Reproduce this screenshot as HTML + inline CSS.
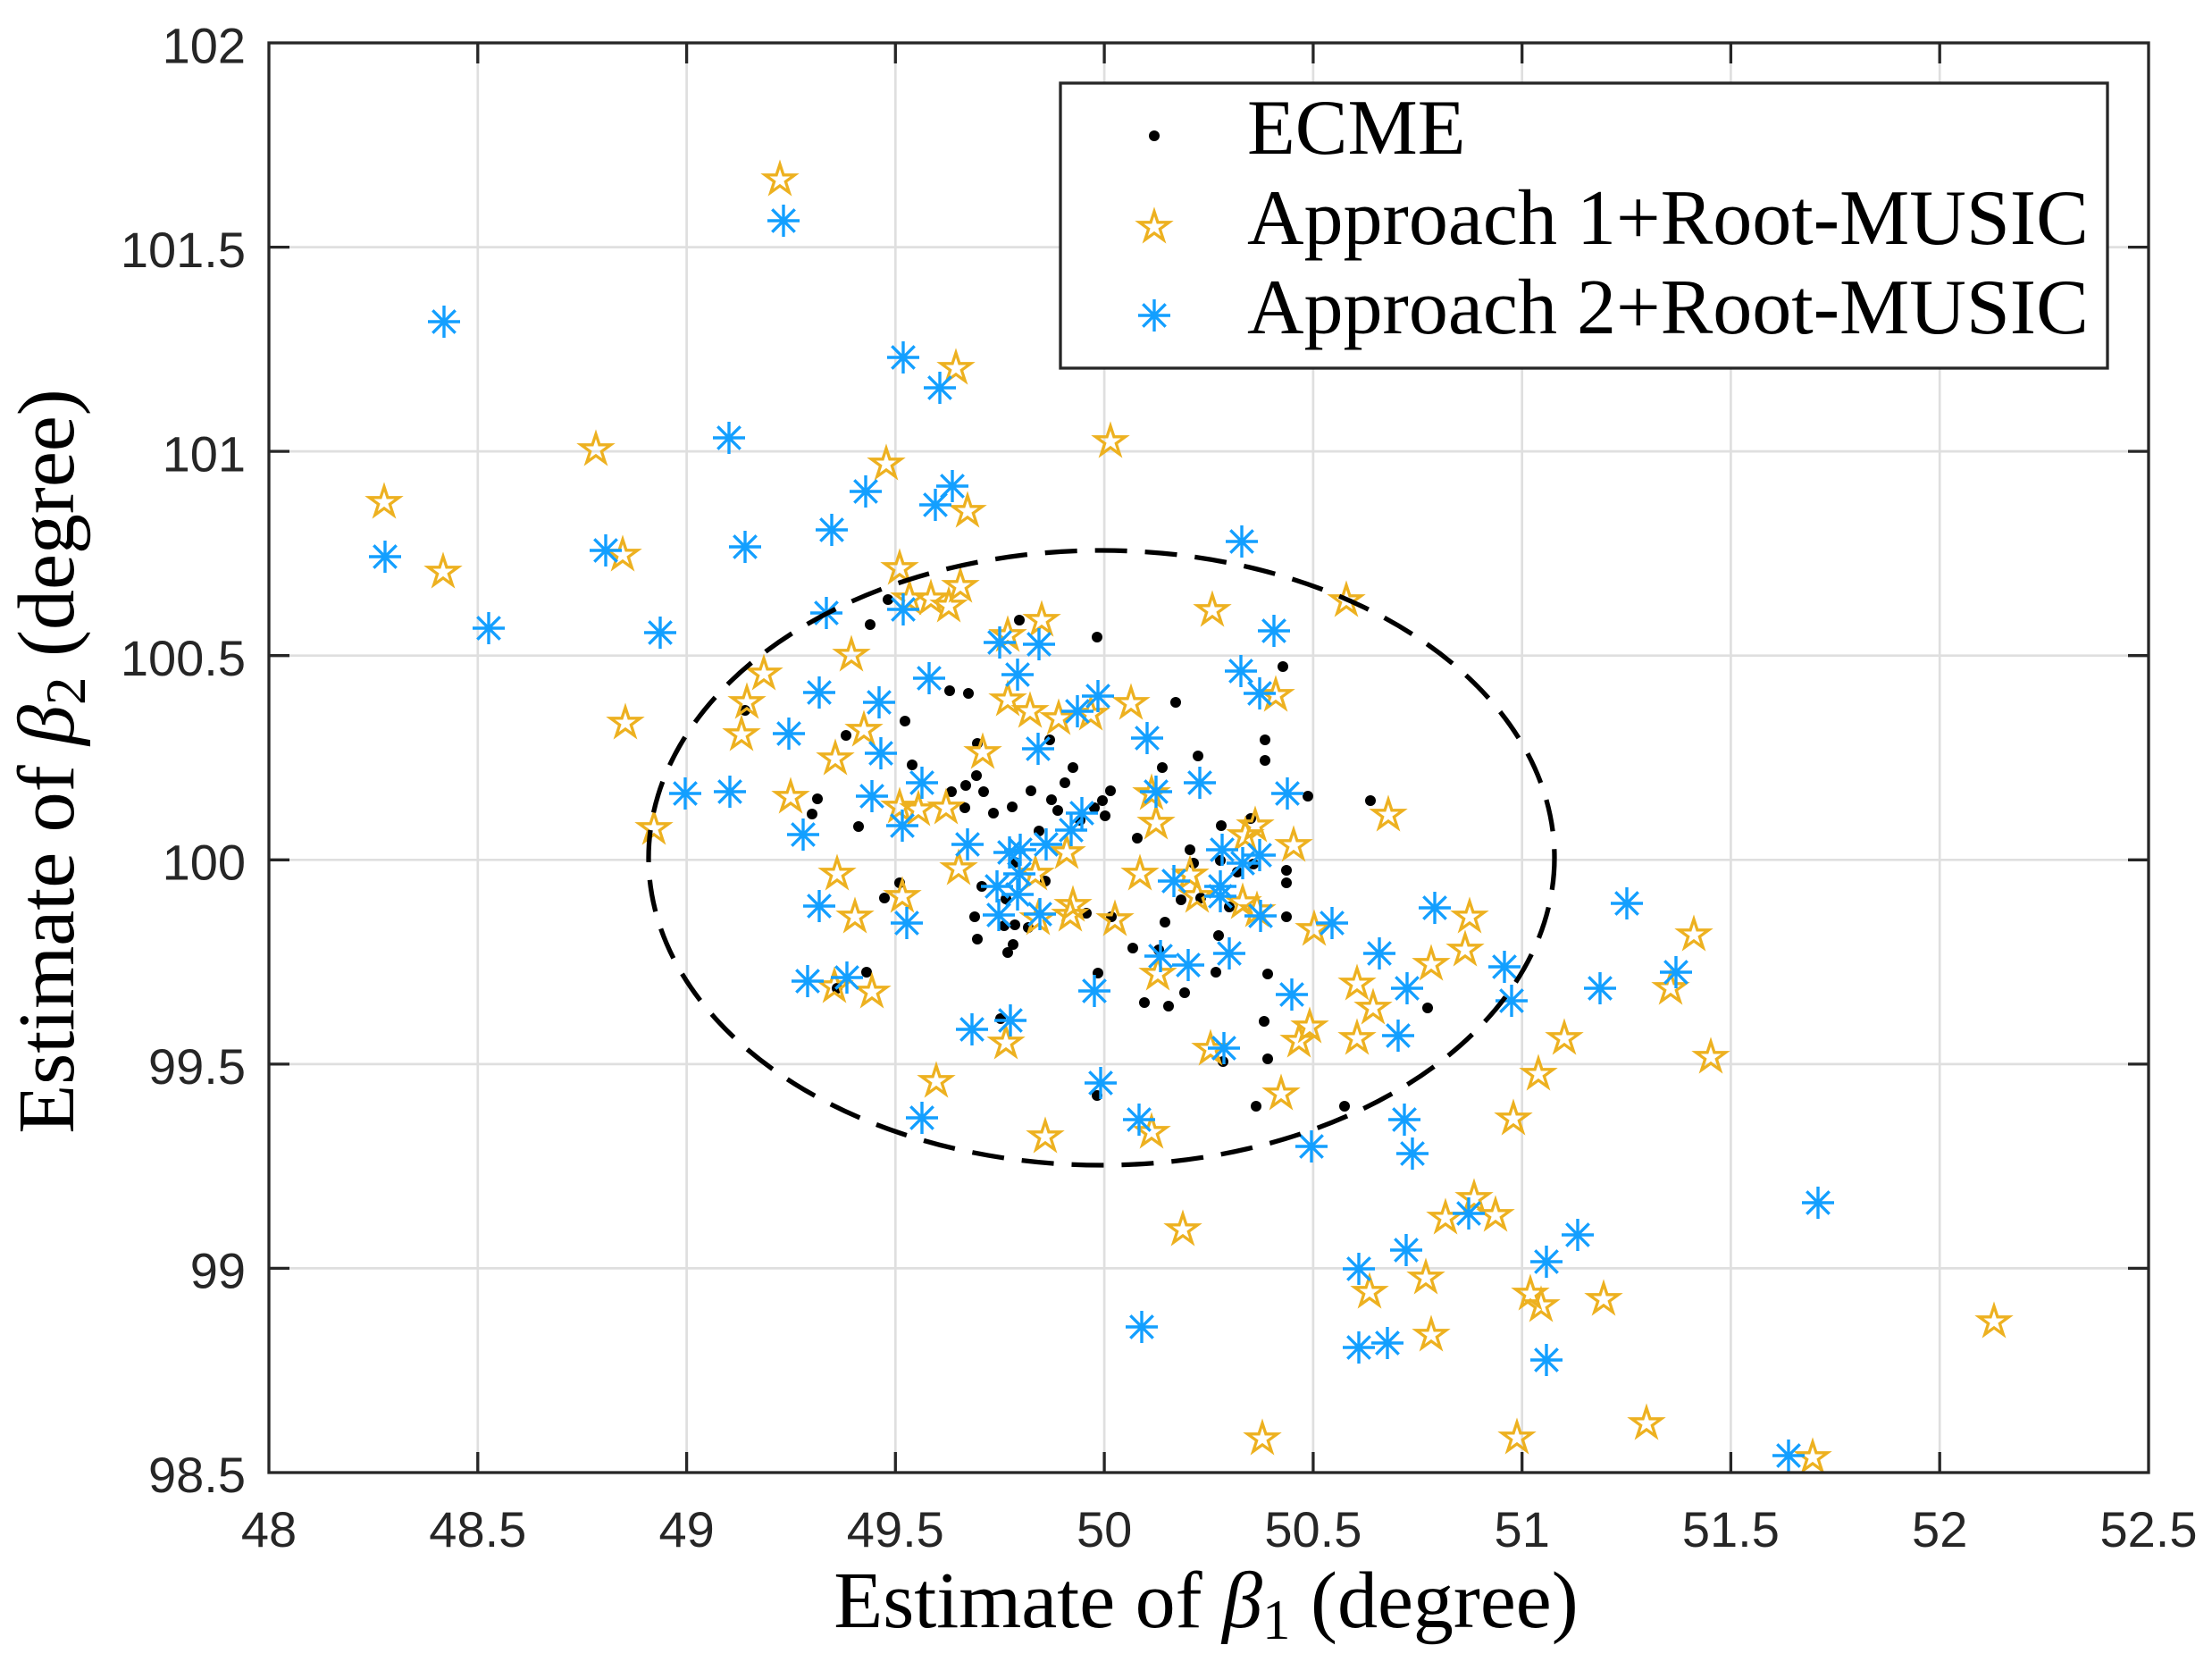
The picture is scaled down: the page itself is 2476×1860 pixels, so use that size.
<!DOCTYPE html>
<html><head><meta charset="utf-8"><style>html,body{margin:0;padding:0;background:#fff}svg{display:block}</style></head>
<body>
<svg xmlns="http://www.w3.org/2000/svg" width="2476" height="1860" viewBox="0 0 2476 1860">
<rect x="0" y="0" width="2476" height="1860" fill="#ffffff"/>
<defs>
<path id="st" d="M0,-15.3 L3.93,-3.21 L16.64,-3.21 L6.36,4.27 L10.29,16.36 L0,8.89 L-10.29,16.36 L-6.36,4.27 L-16.64,-3.21 L-3.93,-3.21 Z" fill="none" stroke="#EDB120" stroke-width="3.3" stroke-linejoin="miter" stroke-miterlimit="10"/>
<path id="as" d="M0,-18V18M-18,0H18M-12.7,-12.7L12.7,12.7M-12.7,12.7L12.7,-12.7" fill="none" stroke="#139FFF" stroke-width="3.4"/>
<circle id="dt" cx="0" cy="0" r="6" fill="#000"/>
</defs>
<!-- grid -->
<g stroke="#DFDFDF" stroke-width="2.7">
<line x1="534.8" y1="48" x2="534.8" y2="1648"/>
<line x1="768.6" y1="48" x2="768.6" y2="1648"/>
<line x1="1002.3" y1="48" x2="1002.3" y2="1648"/>
<line x1="1236.1" y1="48" x2="1236.1" y2="1648"/>
<line x1="1469.9" y1="48" x2="1469.9" y2="1648"/>
<line x1="1703.7" y1="48" x2="1703.7" y2="1648"/>
<line x1="1937.4" y1="48" x2="1937.4" y2="1648"/>
<line x1="2171.2" y1="48" x2="2171.2" y2="1648"/>
<line x1="301" y1="276.6" x2="2405" y2="276.6"/>
<line x1="301" y1="505.1" x2="2405" y2="505.1"/>
<line x1="301" y1="733.7" x2="2405" y2="733.7"/>
<line x1="301" y1="962.3" x2="2405" y2="962.3"/>
<line x1="301" y1="1190.9" x2="2405" y2="1190.9"/>
<line x1="301" y1="1419.4" x2="2405" y2="1419.4"/>
</g>
<!-- ticks -->
<g stroke="#262626" stroke-width="3.3">
<path d="M534.8,1648V1625M768.6,1648V1625M1002.3,1648V1625M1236.1,1648V1625M1469.9,1648V1625M1703.7,1648V1625M1937.4,1648V1625M2171.2,1648V1625"/>
<path d="M534.8,48V71M768.6,48V71M1002.3,48V71M1236.1,48V71M1469.9,48V71M1703.7,48V71M1937.4,48V71M2171.2,48V71"/>
<path d="M301,276.6H324M301,505.1H324M301,733.7H324M301,962.3H324M301,1190.9H324M301,1419.4H324"/>
<path d="M2405,276.6H2382M2405,505.1H2382M2405,733.7H2382M2405,962.3H2382M2405,1190.9H2382M2405,1419.4H2382"/>
</g>
<!-- dots -->
<g>
<use href="#dt" x="834" y="795"/>
<use href="#dt" x="994" y="671"/><use href="#dt" x="974" y="699"/><use href="#dt" x="1141" y="694"/><use href="#dt" x="1228" y="713"/><use href="#dt" x="1316" y="786"/><use href="#dt" x="1436" y="746"/><use href="#dt" x="1063" y="773"/><use href="#dt" x="1084" y="776"/><use href="#dt" x="1013" y="807"/><use href="#dt" x="947" y="823"/><use href="#dt" x="1094" y="832"/><use href="#dt" x="1175" y="828"/><use href="#dt" x="1416" y="828"/><use href="#dt" x="1341" y="846"/><use href="#dt" x="1416" y="851"/><use href="#dt" x="1021" y="856"/><use href="#dt" x="1093" y="868"/><use href="#dt" x="1201" y="859"/><use href="#dt" x="1301" y="859"/><use href="#dt" x="1192" y="876"/><use href="#dt" x="1081" y="879"/><use href="#dt" x="1101" y="886"/><use href="#dt" x="1065" y="886"/><use href="#dt" x="1154" y="885"/><use href="#dt" x="1243" y="885"/><use href="#dt" x="915" y="894"/><use href="#dt" x="1177" y="895"/><use href="#dt" x="1234" y="896"/><use href="#dt" x="909" y="911"/><use href="#dt" x="1080" y="904"/><use href="#dt" x="1112" y="910"/><use href="#dt" x="1133" y="903"/><use href="#dt" x="1184" y="907"/><use href="#dt" x="1225" y="904"/><use href="#dt" x="1237" y="913"/><use href="#dt" x="961" y="925"/><use href="#dt" x="1209" y="918"/><use href="#dt" x="1163" y="930"/><use href="#dt" x="1273" y="938"/><use href="#dt" x="1367" y="924"/><use href="#dt" x="1400" y="916"/><use href="#dt" x="1332" y="951"/><use href="#dt" x="1366" y="963"/><use href="#dt" x="1336" y="966"/><use href="#dt" x="1385" y="976"/><use href="#dt" x="1403" y="967"/><use href="#dt" x="1440" y="974"/><use href="#dt" x="1440" y="988"/><use href="#dt" x="1136" y="965"/><use href="#dt" x="1007" y="988"/><use href="#dt" x="990" y="1005"/><use href="#dt" x="1099" y="992"/><use href="#dt" x="1170" y="986"/><use href="#dt" x="1126" y="1006"/><use href="#dt" x="1322" y="1007"/><use href="#dt" x="1344" y="1005"/><use href="#dt" x="1376" y="1015"/><use href="#dt" x="1440" y="1026"/><use href="#dt" x="1091" y="1026"/><use href="#dt" x="1124" y="1036"/><use href="#dt" x="1136" y="1035"/><use href="#dt" x="1151" y="1038"/><use href="#dt" x="1216" y="1022"/><use href="#dt" x="1244" y="1026"/><use href="#dt" x="1304" y="1032"/><use href="#dt" x="1094" y="1051"/><use href="#dt" x="1134" y="1057"/><use href="#dt" x="1128" y="1066"/><use href="#dt" x="1268" y="1061"/><use href="#dt" x="1364" y="1047"/><use href="#dt" x="1297" y="1063"/><use href="#dt" x="1419" y="1090"/><use href="#dt" x="1361" y="1088"/><use href="#dt" x="1326" y="1111"/><use href="#dt" x="1281" y="1122"/><use href="#dt" x="1308" y="1126"/><use href="#dt" x="1229" y="1089"/><use href="#dt" x="970" y="1088"/><use href="#dt" x="937" y="1106"/><use href="#dt" x="1120" y="1140"/><use href="#dt" x="1415" y="1143"/><use href="#dt" x="1419" y="1185"/><use href="#dt" x="1369" y="1188"/>
<use href="#dt" x="1464" y="891"/><use href="#dt" x="1534" y="896"/><use href="#dt" x="1598" y="1128"/>
<use href="#dt" x="1406" y="1238"/><use href="#dt" x="1505" y="1238"/><use href="#dt" x="1228" y="1226"/>
</g>
<!-- stars -->
<g>
<use href="#st" x="873" y="199"/><use href="#st" x="1070" y="410"/><use href="#st" x="667" y="501"/><use href="#st" x="430" y="560"/><use href="#st" x="496" y="638"/><use href="#st" x="697" y="619"/><use href="#st" x="992" y="517"/><use href="#st" x="1083" y="570"/><use href="#st" x="1243" y="492"/><use href="#st" x="1007" y="634"/><use href="#st" x="855" y="752"/><use href="#st" x="836" y="784"/><use href="#st" x="830" y="820"/><use href="#st" x="700" y="807"/><use href="#st" x="732" y="925"/>
<use href="#st" x="1018" y="668"/><use href="#st" x="1042" y="668"/><use href="#st" x="1062" y="676"/><use href="#st" x="1075" y="654"/><use href="#st" x="1166" y="692"/><use href="#st" x="953" y="731"/><use href="#st" x="1357" y="681"/><use href="#st" x="1128" y="709"/><use href="#st" x="935" y="847"/><use href="#st" x="967" y="815"/><use href="#st" x="885" y="890"/><use href="#st" x="1128" y="781"/><use href="#st" x="1153" y="794"/><use href="#st" x="1185" y="802"/><use href="#st" x="1221" y="797"/><use href="#st" x="1266" y="785"/><use href="#st" x="1428" y="776"/><use href="#st" x="1100" y="840"/><use href="#st" x="1007" y="901"/><use href="#st" x="1028" y="904"/><use href="#st" x="1059" y="902"/><use href="#st" x="1289" y="886"/><use href="#st" x="1294" y="919"/><use href="#st" x="1194" y="952"/><use href="#st" x="1073" y="970"/><use href="#st" x="937" y="976"/><use href="#st" x="1159" y="976"/><use href="#st" x="1276" y="976"/><use href="#st" x="1332" y="977"/><use href="#st" x="1405" y="922"/><use href="#st" x="1394" y="933"/><use href="#st" x="1340" y="1001"/><use href="#st" x="1391" y="1008"/><use href="#st" x="1407" y="1017"/><use href="#st" x="1010" y="1001"/><use href="#st" x="957" y="1024"/><use href="#st" x="1201" y="1011"/><use href="#st" x="1198" y="1022"/><use href="#st" x="1162" y="1026"/><use href="#st" x="1248" y="1027"/><use href="#st" x="1296" y="1088"/><use href="#st" x="934" y="1102"/><use href="#st" x="976" y="1108"/><use href="#st" x="1126" y="1165"/><use href="#st" x="1355" y="1172"/>
<use href="#st" x="1507" y="670"/><use href="#st" x="1554" y="910"/><use href="#st" x="1448" y="944"/><use href="#st" x="1471" y="1038"/><use href="#st" x="1645" y="1024"/><use href="#st" x="1640" y="1061"/><use href="#st" x="1602" y="1077"/><use href="#st" x="1519" y="1099"/><use href="#st" x="1537" y="1126"/><use href="#st" x="1466" y="1147"/><use href="#st" x="1519" y="1160"/><use href="#st" x="1454" y="1163"/><use href="#st" x="1751" y="1160"/>
<use href="#st" x="1896" y="1044"/><use href="#st" x="1870" y="1104"/><use href="#st" x="1915" y="1181"/><use href="#st" x="1722" y="1200"/><use href="#st" x="1434" y="1222"/><use href="#st" x="1694" y="1250"/><use href="#st" x="1324" y="1374"/><use href="#st" x="1618" y="1361"/><use href="#st" x="1650" y="1339"/><use href="#st" x="1674" y="1358"/><use href="#st" x="1596" y="1428"/><use href="#st" x="1533" y="1444"/><use href="#st" x="1713" y="1446"/><use href="#st" x="1725" y="1459"/><use href="#st" x="1795" y="1452"/><use href="#st" x="1602" y="1492"/><use href="#st" x="2232" y="1477"/><use href="#st" x="1413" y="1608"/><use href="#st" x="1698" y="1607"/><use href="#st" x="1843" y="1591"/><use href="#st" x="2029" y="1629"/>
<use href="#st" x="1048" y="1208"/><use href="#st" x="1170" y="1270"/><use href="#st" x="1289" y="1265"/>
</g>
<!-- asterisks -->
<g>
<use href="#as" x="877" y="247"/><use href="#as" x="497" y="360"/><use href="#as" x="1011" y="400"/><use href="#as" x="1052" y="434"/><use href="#as" x="816" y="490"/><use href="#as" x="969" y="550"/><use href="#as" x="1066" y="544"/><use href="#as" x="1047" y="565"/><use href="#as" x="931" y="593"/><use href="#as" x="834" y="612"/><use href="#as" x="431" y="623"/><use href="#as" x="678" y="616"/><use href="#as" x="547" y="703"/><use href="#as" x="739" y="708"/><use href="#as" x="767" y="888"/><use href="#as" x="817" y="886"/>
<use href="#as" x="925" y="686"/><use href="#as" x="1011" y="682"/><use href="#as" x="1119" y="719"/><use href="#as" x="1163" y="721"/><use href="#as" x="1139" y="755"/><use href="#as" x="1426" y="706"/><use href="#as" x="1389" y="751"/><use href="#as" x="1410" y="776"/><use href="#as" x="1040" y="759"/><use href="#as" x="917" y="775"/><use href="#as" x="984" y="786"/><use href="#as" x="1229" y="779"/><use href="#as" x="1206" y="796"/><use href="#as" x="1284" y="826"/><use href="#as" x="1162" y="838"/><use href="#as" x="883" y="821"/><use href="#as" x="986" y="843"/><use href="#as" x="1343" y="876"/><use href="#as" x="1032" y="876"/><use href="#as" x="976" y="891"/><use href="#as" x="1294" y="886"/><use href="#as" x="1441" y="888"/><use href="#as" x="1211" y="910"/><use href="#as" x="1199" y="929"/><use href="#as" x="1171" y="945"/><use href="#as" x="1142" y="951"/><use href="#as" x="1130" y="954"/><use href="#as" x="1083" y="945"/><use href="#as" x="1010" y="924"/><use href="#as" x="899" y="934"/><use href="#as" x="1141" y="978"/><use href="#as" x="1116" y="992"/><use href="#as" x="1139" y="1001"/><use href="#as" x="1368" y="951"/><use href="#as" x="1391" y="966"/><use href="#as" x="1410" y="957"/><use href="#as" x="1314" y="986"/><use href="#as" x="1366" y="992"/><use href="#as" x="1366" y="1003"/><use href="#as" x="917" y="1014"/><use href="#as" x="1015" y="1033"/><use href="#as" x="1118" y="1024"/><use href="#as" x="1164" y="1023"/><use href="#as" x="1411" y="1025"/><use href="#as" x="1299" y="1070"/><use href="#as" x="1330" y="1080"/><use href="#as" x="1376" y="1067"/><use href="#as" x="904" y="1098"/><use href="#as" x="948" y="1094"/><use href="#as" x="1225" y="1109"/><use href="#as" x="1088" y="1152"/><use href="#as" x="1131" y="1142"/><use href="#as" x="1370" y="1173"/>
<use href="#as" x="1491" y="1033"/><use href="#as" x="1606" y="1016"/><use href="#as" x="1821" y="1011"/><use href="#as" x="1544" y="1067"/><use href="#as" x="1575" y="1106"/><use href="#as" x="1684" y="1082"/><use href="#as" x="1692" y="1120"/><use href="#as" x="1791" y="1106"/><use href="#as" x="1446" y="1113"/><use href="#as" x="1565" y="1159"/>
<use href="#as" x="1876" y="1088"/><use href="#as" x="1468" y="1283"/><use href="#as" x="1572" y="1253"/><use href="#as" x="1581" y="1291"/><use href="#as" x="1644" y="1358"/><use href="#as" x="1766" y="1382"/><use href="#as" x="1731" y="1412"/><use href="#as" x="1574" y="1399"/><use href="#as" x="1521" y="1420"/><use href="#as" x="1521" y="1508"/><use href="#as" x="1553" y="1503"/><use href="#as" x="1731" y="1522"/><use href="#as" x="2035" y="1346"/><use href="#as" x="2002" y="1629"/>
<use href="#as" x="1032" y="1251"/><use href="#as" x="1232" y="1212"/><use href="#as" x="1275" y="1253"/><use href="#as" x="1278" y="1485"/>
<use href="#as" x="1390" y="606"/>
</g>
<!-- ellipse -->
<ellipse cx="1233" cy="960" rx="507" ry="344" fill="none" stroke="#000" stroke-width="5.3" stroke-dasharray="36 20"/>
<!-- axes box -->
<rect x="301" y="48" width="2104" height="1600" fill="none" stroke="#262626" stroke-width="3.3"/>
<!-- tick labels -->
<g font-family="'Liberation Sans', Arial, sans-serif" font-size="56" fill="#262626">
<g text-anchor="middle">
<text x="301" y="1731">48</text>
<text x="534.8" y="1731">48.5</text>
<text x="768.6" y="1731">49</text>
<text x="1002.3" y="1731">49.5</text>
<text x="1236.1" y="1731">50</text>
<text x="1469.9" y="1731">50.5</text>
<text x="1703.7" y="1731">51</text>
<text x="1937.4" y="1731">51.5</text>
<text x="2171.2" y="1731">52</text>
<text x="2405" y="1731">52.5</text>
</g>
<g text-anchor="end">
<text x="275" y="70.5">102</text>
<text x="275" y="299">101.5</text>
<text x="275" y="527.5">101</text>
<text x="275" y="756">100.5</text>
<text x="275" y="984.5">100</text>
<text x="275" y="1213">99.5</text>
<text x="275" y="1441.5">99</text>
<text x="275" y="1670">98.5</text>
</g>
</g>
<!-- axis labels -->
<g font-family="'Liberation Serif', 'Times New Roman', serif" font-size="90" fill="#000">
<text x="1350" y="1821" text-anchor="middle">Estimate of <tspan font-style="italic">β</tspan><tspan font-size="63" dy="13">1</tspan><tspan dy="-13"> (degree)</tspan></text>
<text transform="translate(82,852) rotate(-90)" text-anchor="middle">Estimate of <tspan font-style="italic">β</tspan><tspan font-size="63" dy="13">2</tspan><tspan dy="-13"> (degree)</tspan></text>
</g>
<!-- legend -->
<rect x="1187" y="93" width="1172" height="319" fill="#fff" stroke="#262626" stroke-width="3.3"/>
<use href="#dt" x="1292" y="152"/>
<use href="#st" x="1292" y="252"/>
<use href="#as" x="1292" y="353"/>
<g font-family="'Liberation Serif', 'Times New Roman', serif" font-size="88" fill="#000">
<text x="1396" y="172">ECME</text>
<text x="1396" y="273">Approach 1+Root-MUSIC</text>
<text x="1396" y="373">Approach 2+Root-MUSIC</text>
</g>
</svg>
</body></html>
